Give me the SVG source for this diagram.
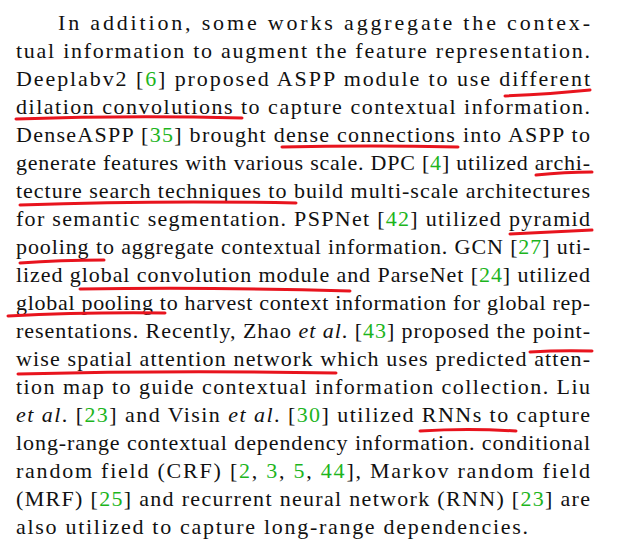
<svg xmlns="http://www.w3.org/2000/svg" width="622" height="552" viewBox="0 0 622 552">
<style>
text{font-family:"Liberation Serif","Times New Roman",serif;font-size:22px;fill:#111}
.g{fill:#1db51d}
.u{fill:none;stroke:#e8141e;stroke-width:3;stroke-linecap:round}
</style>
<rect width="622" height="552" fill="#fff"/>
<g id="text">
<text x="58" y="30" textLength="532" lengthAdjust="spacing">In addition, some works aggregate the contex-</text>
<text x="16" y="58" textLength="574" lengthAdjust="spacing">tual information to augment the feature representation.</text>
<text x="16" y="86" textLength="574" lengthAdjust="spacing">Deeplabv2 [<tspan class="g">6</tspan>] proposed ASPP module to use different</text>
<text x="16" y="114" textLength="574" lengthAdjust="spacing">dilation convolutions to capture contextual information.</text>
<text x="16" y="142" textLength="574" lengthAdjust="spacing">DenseASPP [<tspan class="g">35</tspan>] brought dense connections into ASPP to</text>
<text x="16" y="170" textLength="574" lengthAdjust="spacing">generate features with various scale. DPC [<tspan class="g">4</tspan>] utilized archi-</text>
<text x="16" y="198" textLength="574" lengthAdjust="spacing">tecture search techniques to build multi-scale architectures</text>
<text x="16" y="226" textLength="574" lengthAdjust="spacing">for semantic segmentation. PSPNet [<tspan class="g">42</tspan>] utilized pyramid</text>
<text x="16" y="254" textLength="574" lengthAdjust="spacing">pooling to aggregate contextual information. GCN [<tspan class="g">27</tspan>] uti-</text>
<text x="16" y="282" textLength="574" lengthAdjust="spacing">lized global convolution module and ParseNet [<tspan class="g">24</tspan>] utilized</text>
<text x="16" y="310" textLength="574" lengthAdjust="spacing">global pooling to harvest context information for global rep-</text>
<text x="16" y="338" textLength="574" lengthAdjust="spacing">resentations. Recently, Zhao <tspan font-style="italic">et al</tspan>. [<tspan class="g">43</tspan>] proposed the point-</text>
<text x="16" y="366" textLength="574" lengthAdjust="spacing">wise spatial attention network which uses predicted atten-</text>
<text x="16" y="394" textLength="574" lengthAdjust="spacing">tion map to guide contextual information collection. Liu</text>
<text x="16" y="422" textLength="574" lengthAdjust="spacing"><tspan font-style="italic">et al</tspan>. [<tspan class="g">23</tspan>] and Visin <tspan font-style="italic">et al</tspan>. [<tspan class="g">30</tspan>] utilized RNNs to capture</text>
<text x="16" y="450" textLength="574" lengthAdjust="spacing">long-range contextual dependency information. conditional</text>
<text x="16" y="478" textLength="574" lengthAdjust="spacing">random field (CRF) [<tspan class="g">2</tspan>, <tspan class="g">3</tspan>, <tspan class="g">5</tspan>, <tspan class="g">44</tspan>], Markov random field</text>
<text x="16" y="506" textLength="574" lengthAdjust="spacing">(MRF) [<tspan class="g">25</tspan>] and recurrent neural network (RNN) [<tspan class="g">23</tspan>] are</text>
<text x="16" y="534" textLength="512" lengthAdjust="spacing">also utilized to capture long-range dependencies.</text>
</g>
<g id="underlines">
<path class="u" d="M505,96 Q550,94 590,90"/>
<path class="u" d="M16,119 Q130,115 242,118"/>
<path class="u" d="M282,147 Q370,145 458,147"/>
<path class="u" d="M536,175 Q565,172 592,172"/>
<path class="u" d="M20,205 Q160,200 296,203"/>
<path class="u" d="M510,234 Q550,232 592,230"/>
<path class="u" d="M20,263 Q60,260 104,260"/>
<path class="u" d="M80,289 Q215,287 350,291"/>
<path class="u" d="M8,316 Q85,312 165,313"/>
<path class="u" d="M530,352 Q560,350 592,351"/>
<path class="u" d="M18,374 Q175,370 336,373"/>
<path class="u" d="M420,431 Q468,428 516,431"/>
</g>
</svg>
